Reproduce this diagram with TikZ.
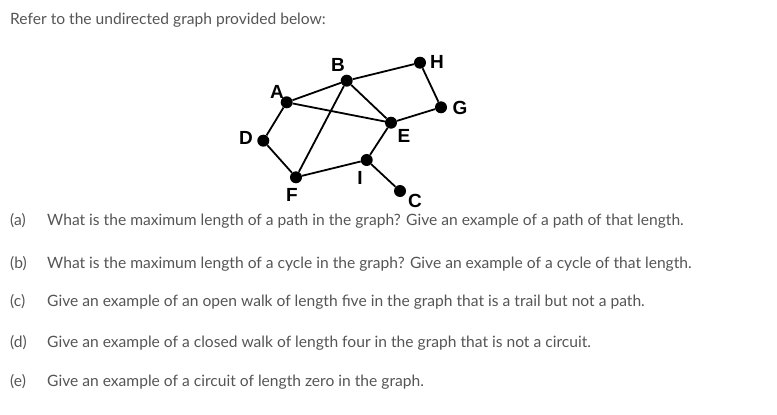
\documentclass[tikz,border=0pt]{standalone}
\usepackage{fontspec}
\setmainfont{Lato}
\newfontfamily\lab{Liberation Sans}
\definecolor{txt}{HTML}{555555}
\begin{document}
\begin{tikzpicture}[x=1pt,y=-1pt,
  vtx/.style={circle,fill=black,inner sep=0pt,minimum size=12pt},
  lbl/.style={font=\lab\bfseries\fontsize{19}{20}\selectfont},
  q/.style={anchor=west,text=txt,font=\fontsize{15.6}{18}\selectfont,inner sep=0pt},
  edge/.style={line width=1.8pt}]
\useasboundingbox (0,0) rectangle (777,415);
\node[q] (t0) at (10,20) {Refer to the undirected graph provided below:};
\node[vtx] (A) at (286.7,102.3) {};
\node[vtx] (B) at (346.7,80.7) {};
\node[vtx] (H) at (420,62.7) {};
\node[vtx] (G) at (441,107.3) {};
\node[vtx] (E) at (391,122.7) {};
\node[vtx] (D) at (263.3,140.7) {};
\node[vtx] (I) at (366.7,160) {};
\node[vtx] (F) at (296,177.3) {};
\node[vtx] (C) at (400,191) {};
\node[lbl] (lA) at (277,92) {A};
\node[lbl] (lB) at (338,65) {B};
\node[lbl] (lH) at (437,62) {H};
\node[lbl] (lG) at (460,108) {G};
\node[lbl] (lE) at (404,136) {E};
\node[lbl] (lD) at (246,138) {D};
\node[lbl] (lI) at (360,178) {I};
\node[lbl] (lF) at (292,195) {F};
\node[lbl] (lC) at (415,201) {C};
\draw[edge] (A)--(B) (B)--(H) (H)--(G) (G)--(E) (A)--(E) (B)--(E) (B)--(F)
  (A)--(D) (D)--(F) (F)--(I) (I)--(E) (I)--(C);
\node[q] (pa) at (10,221) {(a)};
\node[q] (ta) at (47,221) {What is the maximum length of a path in the graph? Give an example of a path of that length.};
\node[q] (pb) at (10,264) {(b)};
\node[q] (tb) at (47,264) {What is the maximum length of a cycle in the graph? Give an example of a cycle of that length.};
\node[q] (pc) at (10,302) {(c)};
\node[q] (tc) at (47,302) {Give an example of an open walk of length five in the graph that is a trail but not a path.};
\node[q] (pd) at (10,343) {(d)};
\node[q] (td) at (47,343) {Give an example of a closed walk of length four in the graph that is not a circuit.};
\node[q] (pe) at (10,382) {(e)};
\node[q] (te) at (47,382) {Give an example of a circuit of length zero in the graph.};
\end{tikzpicture}
\end{document}
